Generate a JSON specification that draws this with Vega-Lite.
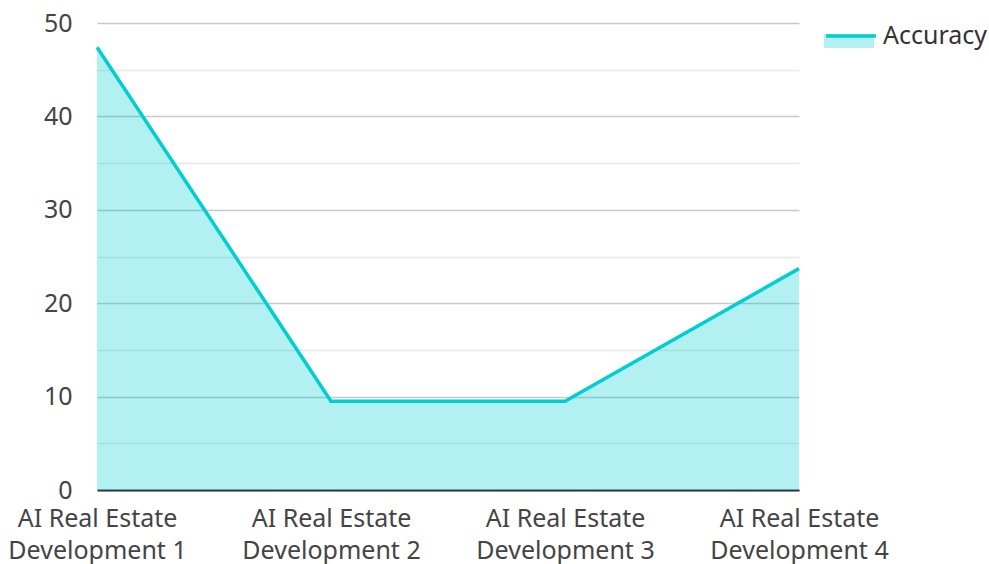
{
  "$schema": "https://vega.github.io/schema/vega-lite/v6.json",
  "autosize": {"type": "none"},
  "padding": {"left": 97, "top": 23, "right": 190, "bottom": 74},
  "width": 702,
  "height": 467,
  "config": {
    "font": "Noto Sans",
    "view": {"stroke": null},
    "axis": {"labelFont": "Noto Sans", "labelColor": "#444444", "labelFontSize": 25, "titleFont": "Noto Sans"},
    "legend": {"labelFont": "Noto Sans"}
  },
  "data": {
    "values": [
      {"category": "AI Real Estate Development 1", "series": "Accuracy", "value": 47.4},
      {"category": "AI Real Estate Development 2", "series": "Accuracy", "value": 9.5},
      {"category": "AI Real Estate Development 3", "series": "Accuracy", "value": 9.5},
      {"category": "AI Real Estate Development 4", "series": "Accuracy", "value": 23.7}
    ]
  },
  "encoding": {
    "x": {
      "field": "category",
      "type": "nominal",
      "scale": {"type": "point", "padding": 0},
      "axis": {
        "title": null,
        "labelAngle": 0,
        "ticks": false,
        "grid": false,
        "domainColor": "#333333",
        "domainWidth": 2,
        "labelPadding": 16,
        "labelLineHeight": 32,
        "labelBaseline": "top",
        "labelExpr": "[substring(datum.label, 0, 14), substring(datum.label, 15)]"
      }
    },
    "y": {
      "field": "value",
      "type": "quantitative",
      "scale": {"domain": [0, 50], "nice": false},
      "axis": {
        "title": null,
        "values": [0, 5, 10, 15, 20, 25, 30, 35, 40, 45, 50],
        "labelExpr": "datum.value % 10 === 0 ? datum.label : ''",
        "domain": false,
        "ticks": false,
        "labelPadding": 25,
        "gridWidth": 1.5,
        "gridColor": {"condition": {"test": "datum.value % 10 === 0", "value": "#c8c8c8"}, "value": "#e8e8e8"}
      }
    }
  },
  "layer": [
    {
      "mark": {"type": "area", "fillOpacity": 0.3, "line": false},
      "encoding": {
        "fill": {
          "field": "series",
          "type": "nominal",
          "scale": {"range": ["#00CED1"]},
          "legend": {
            "title": null,
            "orient": "none",
            "legendX": 727,
            "legendY": -12,
            "padding": 0,
            "symbolType": "M-1,-0.08H1V0.48H-1Z",
            "symbolSize": 2500,
            "symbolOpacity": 0.3,
            "symbolStrokeWidth": 0,
            "labelFontSize": 25,
            "labelColor": "#333333",
            "labelOffset": 9
          }
        }
      }
    },
    {
      "mark": {"type": "line", "strokeWidth": 3.5},
      "encoding": {
        "stroke": {
          "field": "series",
          "type": "nominal",
          "scale": {"range": ["#00CED1"]},
          "legend": {
            "title": null,
            "orient": "none",
            "legendX": 727,
            "legendY": -12,
            "padding": 0,
            "symbolType": "M-1,-0.08H1",
            "symbolSize": 2500,
            "symbolStrokeWidth": 3.5,
            "symbolFillColor": "transparent",
            "labelFontSize": 25,
            "labelExpr": "''",
            "labelOffset": 9
          }
        }
      }
    }
  ]
}
